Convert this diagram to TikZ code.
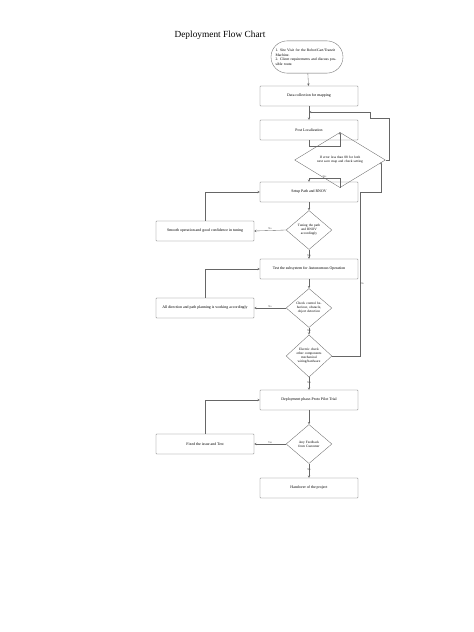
\documentclass[tikz,border=0pt]{standalone}
\usepackage{fontspec}
\setmainfont{Liberation Serif}
\usetikzlibrary{positioning}
\usetikzlibrary{arrows}
\usetikzlibrary{shapes.geometric}
\usetikzlibrary{shapes.misc}
\tikzset{
	stepbox/.style={rectangle,draw=black!60,line width=0.45pt,rounded corners=0.8pt,minimum width=130.5bp,minimum height=26.5bp,inner sep=1pt,font=\fontsize{5.2}{6.2}\selectfont,align=center},
	startbox/.style={rounded rectangle,draw=black!60,line width=0.45pt,minimum width=100bp,minimum height=43bp,inner sep=2pt,font=\fontsize{5}{6}\selectfont,align=left,text width=84bp},
	decision/.style={diamond,draw=black!60,line width=0.45pt,inner sep=0pt,minimum width=61bp,minimum height=52bp,font=\fontsize{4.6}{5.4}\selectfont,align=center,text width=36bp},
	flow/.style={->,>=stealth,draw=black!60,line width=0.45pt},
	tag/.style={font=\fontsize{3.6}{4}\selectfont,inner sep=0.5pt,text=black!70},
}

\begin{document}
\begin{tikzpicture}[x=1.3333bp,y=-1.3333bp]
	\useasboundingbox (0,0) rectangle (474,632);
	
	% title.....................
	\node (title) at (220,35) {\fontsize{12.5}{14}\selectfont Deployment Flow Chart};
	
	% main column..................
	\node [startbox] (visit) at (307,57) {1. Site Visit for the Robot/Cart/Tranzit Machine.\\ 2. Client requirements and discuss possible route.};
	\node [stepbox] (collect) at (309,96) {Data collection for mapping};
	\node [stepbox] (local) at (309,130) {Post Localization};
	\node [decision,minimum width=121bp,minimum height=35bp,text width=64bp] (errchk) at (340,160) {If error less than 08 for both next save map and check setting};
	\node [stepbox] (setup) at (309,192) {Setup Path and RNOV};
	\node [decision] (tune) at (309,230) {Tuning the path and RNOV accordingly};
	\node [stepbox] (test) at (309,269) {Test the subsystem for Autonomous Operation};
	\node [decision] (control) at (309,308) {Check control behaviour, obstacle, object detection};
	\node [decision] (elec) at (309,356) {Electric check other components mechanical wiring/hardware};
	\node [stepbox] (deploy) at (309,400) {Deployment phase-Proto Pilot Trial};
	\node [decision] (feedback) at (309,444) {Any Feedback from Customer};
	\node [stepbox] (handover) at (309,488) {Handover of the project};
	
	% left column..................
	\node [stepbox] (smooth) at (205,231) {Smooth operation and good confidence in tuning};
	\node [stepbox] (alldir) at (205,308) {All direction and path planning is working accordingly};
	\node [stepbox] (fixed) at (205,444) {Fixed the issue and Test};
	
	% straight arrows..............
	\draw [flow] (visit) -- (collect);
	\draw [flow] (collect) -- (local);
	\draw [flow] (setup) -- (tune);
	\draw [flow] (tune) -- node [tag,pos=0.6] {Yes} (test);
	\draw [flow] (test) -- (control);
	\draw [flow] (control) -- node [tag,pos=0.45] {Yes} (elec);
	\draw [flow] (elec) -- node [tag,pos=0.4] {Yes} (deploy);
	\draw [flow] (deploy) -- (feedback);
	\draw [flow] (feedback) -- node [tag,pos=0.4] {No} (handover);
	
	% into and out of the first check.............
	\coordinate (bend1) at (309,146);
	\coordinate (bend2) at (309,178);
	\draw [flow] (local) -- (bend1) -| (errchk.north);
	\draw [flow] (errchk.south) |- node [tag,pos=0.75,above] {Yes} (bend2) -- (setup);
	
	% loop back to localization.............
	\coordinate (loop1) at (389,118);
	\coordinate (loop2) at (370,112);
	\coordinate (loop3) at (309,112);
	\draw [flow] (errchk.east) -| (loop1) -| (loop2) -- (loop3);
	
	% loop back from electric check.............
	\coordinate (ret1) at (360,192);
	\coordinate (ret2) at (381,162);
	\draw [flow] (elec.east) -| node [tag,pos=0.72,right] {No} (ret1) -| (ret2);
	
	% left boxes.......................
	\draw [flow] (tune.west) -- node [tag,above,pos=0.5] {No} (smooth.east);
	\draw [flow] (smooth.north) |- (setup.west);
	\draw [flow] (control.west) -- node [tag,above,pos=0.5] {No} (alldir.east);
	\draw [flow] (alldir.north) |- (test.west);
	\draw [flow] (feedback.west) -- node [tag,above,pos=0.5] {Yes} (fixed.east);
	\draw [flow] (fixed.north) |- (deploy.west);
\end{tikzpicture}
\end{document}
